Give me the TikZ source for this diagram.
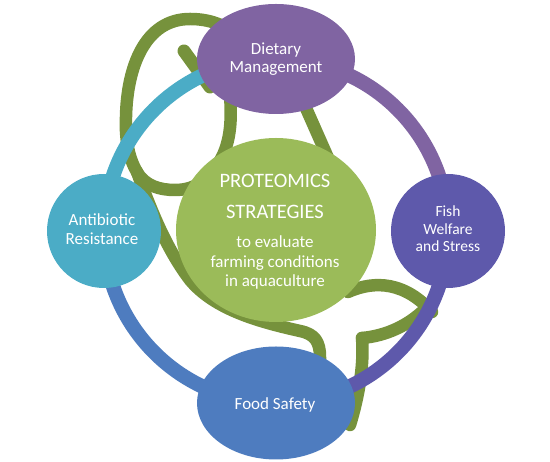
\documentclass[tikz,border=0pt]{standalone}
\usepackage{fontspec}
\setmainfont{Carlito}
\usetikzlibrary{shapes.geometric}
\definecolor{cyancol}{HTML}{4BACC6}
\definecolor{dietcol}{HTML}{8064A2}
\definecolor{fishcol}{HTML}{5E59AB}
\definecolor{foodcol}{HTML}{4E7CBF}
\definecolor{centercol}{HTML}{9BBB59}
\definecolor{leafcol}{HTML}{76923C}
\begin{document}
\begin{tikzpicture}[x=1pt,y=1pt,
  leaf/.style={draw=leafcol, line width=12.5pt, line cap=round, line join=round},
  ringarc/.style={line width=14.5pt},
  bubble/.style={inner sep=0pt, outer sep=0pt, draw=none},
  txt/.style={text=white, anchor=base, inner sep=0pt, font=\fontsize{17}{19}\selectfont},
  bigtxt/.style={txt, font=\fontsize{20.5}{24}\selectfont},
  fishtxt/.style={txt, font=\fontsize{15.5}{17}\selectfont}]
\useasboundingbox (0,0) rectangle (550,462);
% leaf decoration: upper-left leaf
\draw[leaf] (229,377) .. controls (232,350) and (232,325) .. (222,305)
  .. controls (210,282) and (195,272) .. (175,272)
  .. controls (160,272) and (145,276) .. (137,290)
  .. controls (128,305) and (125,325) .. (126,345)
  .. controls (127,395) and (145,443) .. (190,443)
  .. controls (210,443) and (225,437) .. (240,425);
% left stem
\draw[leaf] (137,290) .. controls (150,255) and (165,215) .. (190,182)
  .. controls (215,152) and (260,140) .. (300,131)
  .. controls (315,128) and (320,120) .. (320,105) -- (320,80);
% midrib
\draw[leaf, line width=13pt] (184,411) -- (210,375);
% stem from dietary management
\draw[leaf] (298,372) -- (340,277);
% right leaf
\draw[leaf] (348,170) .. controls (375,182) and (405,180) .. (432,150);
\draw[leaf] (362,124) .. controls (385,126) and (410,136) .. (430,158);
\draw[leaf] (362,124) .. controls (364,100) and (360,70) .. (350,37);
% ring
\coordinate (pDiet) at (276,403);
\coordinate (pFish) at (448,231);
\coordinate (pFood) at (276,59);
\coordinate (pAnti) at (104,231);
\draw[ringarc, draw=cyancol] (pAnti) arc[start angle=180, end angle=90, radius=172];
\draw[ringarc, draw=dietcol] (pDiet) arc[start angle=90, end angle=0, radius=172];
\draw[ringarc, draw=fishcol] (pFish) arc[start angle=0, end angle=-90, radius=172];
\draw[ringarc, draw=foodcol] (pFood) arc[start angle=-90, end angle=-180, radius=172];
% nodes
\node[bubble, ellipse, fill=dietcol, minimum width=158pt, minimum height=110pt] (diet) at (pDiet) {};
\node[bubble, circle, fill=fishcol, minimum size=114pt] (fish) at (pFish) {};
\node[bubble, circle, fill=cyancol, minimum size=114pt] (anti) at (pAnti) {};
\node[bubble, ellipse, fill=foodcol, minimum width=158pt, minimum height=113pt] (food) at (pFood) {};
\node[bubble, ellipse, fill=centercol, minimum width=200pt, minimum height=184pt] (core) at (276,232) {};
% texts
\node[txt] (tDiet1) at (276,407) {Dietary};
\node[txt] (tDiet2) at (276,389) {Management};
\node[txt] (tAnti1) at (102,236) {Antibiotic};
\node[txt] (tAnti2) at (102,217) {Resistance};
\node[fishtxt] (tFish1) at (448,245) {Fish};
\node[fishtxt] (tFish2) at (448,227) {Welfare};
\node[fishtxt] (tFish3) at (448,210) {and Stress};
\node[txt] (tFood) at (275,52) {Food Safety};
\node[bigtxt] (tCore1) at (275,274) {PROTEOMICS};
\node[bigtxt] (tCore2) at (275,243) {STRATEGIES};
\node[txt] (tCore3) at (275,214) {to evaluate};
\node[txt] (tCore4) at (275,194) {farming conditions};
\node[txt] (tCore5) at (275,175) {in aquaculture};
\end{tikzpicture}
\end{document}
